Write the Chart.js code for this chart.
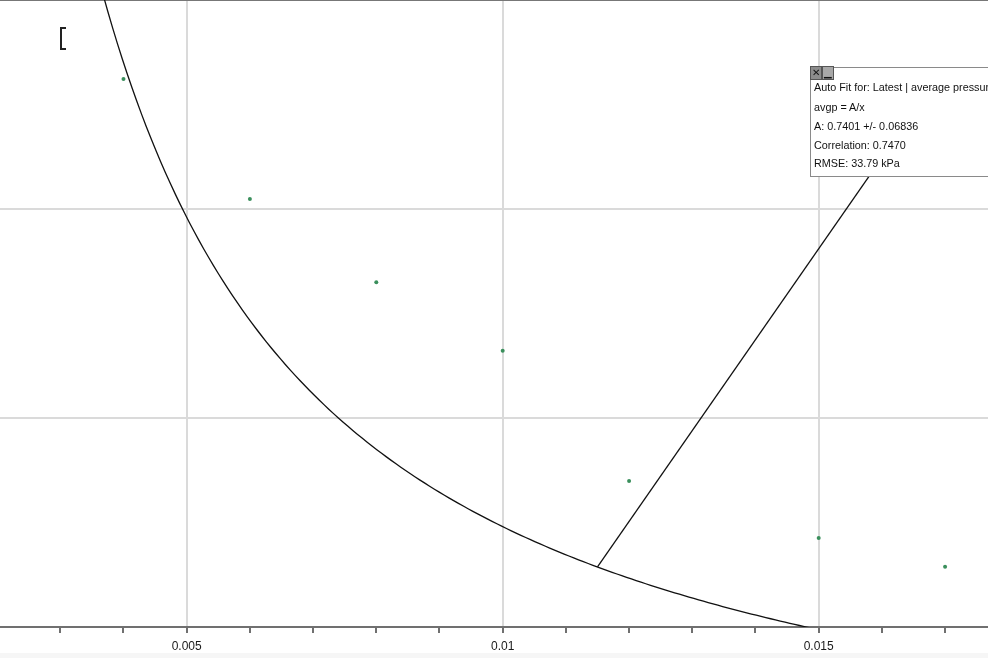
<!DOCTYPE html>
<html>
<head>
<meta charset="utf-8">
<script src="https://cdn.jsdelivr.net/npm/chart.js@4.4.1/dist/chart.umd.min.js"></script>
<style>
  html, body { margin: 0; padding: 0; background: #fff; overflow: hidden; }
  #wrap { position: relative; width: 988px; height: 658px; }
  #bottomStrip { position: absolute; left: 0; bottom: 0; width: 988px; height: 5px; background: #f6f6f6; }
  canvas { position: absolute; left: 0; top: 0; }
  #bracket { position: absolute; left: 60px; top: 27px; width: 4px; height: 19px;
    border-left: 2px solid #222; border-top: 2px solid #222; border-bottom: 2px solid #222; }
  #fitBox { position: absolute; left: 810px; top: 67px; width: 230px; height: 108px;
    border: 1px solid #8a8a8a; background: #fff; font-family: "Liberation Sans", Arial, sans-serif;
    font-size: 10.8px; color: #111; }
  #fitBox div.line { position: absolute; left: 3px; white-space: nowrap; }
  .icon { position: absolute; top: -2px; width: 10px; height: 12px; background: #8c8c8c;
    border: 1px solid #555; font-size: 10px; line-height: 11px; text-align: center; color: #111; }
</style>
</head>
<body>
<div id="wrap">
  <div id="bottomStrip"></div>
  <canvas id="chartCanvas" width="988" height="658"></canvas>
  <div id="bracket"></div>
  <div id="fitBox">
    <div class="icon" style="left:-1px">&#x2715;</div>
    <div class="icon" style="left:11px;background:#a8a8a8">&#x2581;</div>
    <div class="line" style="top:13px">Auto Fit for: Latest | average pressure</div>
    <div class="line" style="top:33px">avgp = A/x</div>
    <div class="line" style="top:52px">A: 0.7401 +/- 0.06836</div>
    <div class="line" style="top:71px">Correlation: 0.7470</div>
    <div class="line" style="top:89px">RMSE: 33.79 kPa</div>
  </div>
</div>
<script>
// Données
const volumes = [0.004, 0.006, 0.008, 0.010, 0.012, 0.015, 0.017];
const pressures = [181.1, 152.4, 132.5, 116.1, 84.9, 71.3, 64.4];

// Ajustement affiché : avgp = A/x
const fitA = 0.7401;
const fitX = [];
for (let i = 0; i <= 150; i++) fitX.push(0.0036 + i * (0.0150 - 0.0036) / 150);

// Trait qui relie la boîte d'ajustement à la courbe
const calloutX = [0.0115, 0.01581];
const calloutY = [64.36, 158.1];

// Axes
const xMin = 0.002046, xMax = 0.017679;
const yMin = 50, yMax = 200;
const majorTicks = [0.005, 0.01, 0.015];
const majorLabels = ["0.005", "0.01", "0.015"];

function majorIndex(v) {
  return majorTicks.findIndex(t => Math.abs(t - v) < 1e-7);
}

const ctx = document.getElementById("chartCanvas");

new Chart(ctx, {
  type: "scatter",
  data: {
    datasets: [
      {
        label: "fit",
        type: "line",
        data: fitX.map(x => ({ x, y: fitA / x })),
        borderColor: "#111",
        borderWidth: 1.3,
        pointRadius: 0,
        fill: false,
        tension: 0
      },
      {
        label: "callout",
        type: "line",
        data: calloutX.map((x, i) => ({ x, y: calloutY[i] })),
        borderColor: "#111",
        borderWidth: 1.3,
        pointRadius: 0,
        fill: false
      },
      {
        label: "average pressure",
        data: volumes.map((x, i) => ({ x, y: pressures[i] })),
        backgroundColor: "#3a8f5c",
        borderColor: "#3a8f5c",
        pointRadius: 2,
        borderWidth: 0
      }
    ]
  },
  options: {
    responsive: false,
    animation: false,
    devicePixelRatio: 1,
    layout: { padding: 0, autoPadding: false },
    plugins: {
      legend: { display: false },
      tooltip: { enabled: false }
    },
    scales: {
      x: {
        type: "linear",
        min: xMin,
        max: xMax,
        afterFit: scale => { scale.height = 31; },
        border: { display: true, color: "#707070", width: 2 },
        grid: {
          color: c => majorIndex(c.tick.value) >= 0 ? "#dadada" : "rgba(0,0,0,0)",
          lineWidth: 2,
          drawTicks: true,
          tickLength: 6,
          tickColor: "#707070",
          tickWidth: 2
        },
        ticks: {
          stepSize: 0.001,
          includeBounds: false,
          autoSkip: false,
          maxRotation: 0,
          padding: 6,
          color: "#1a1a1a",
          font: { family: "Liberation Sans", size: 12 },
          callback: v => {
            const i = majorIndex(v);
            return i >= 0 ? majorLabels[i] : "";
          }
        }
      },
      y: {
        type: "linear",
        min: yMin,
        max: yMax,
        afterFit: scale => { scale.width = 0; },
        border: { display: false },
        grid: {
          color: c => c.tick.value === yMax ? "#777" : "#dadada",
          lineWidth: 2,
          drawTicks: false
        },
        ticks: { display: false, stepSize: 50 }
      }
    }
  }
});
</script>
</body>
</html>
